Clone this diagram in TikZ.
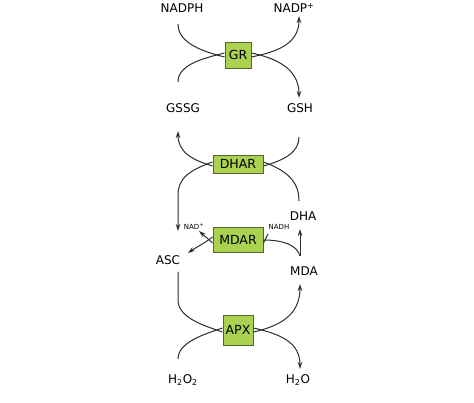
\documentclass[tikz,border=0pt]{standalone}
\usepackage{fontspec}
\setmainfont{DejaVu Sans}
\usetikzlibrary{arrows.meta}
\definecolor{boxfill}{RGB}{170,210,80}
\definecolor{boxline}{RGB}{85,100,50}
\definecolor{ln}{RGB}{45,45,45}
\tikzset{
  enz/.style={draw=boxline, line width=0.9pt, fill=boxfill, inner sep=0pt, font=\fontsize{12.5}{14}\selectfont, text=black},
  lbl/.style={font=\fontsize{12}{14}\selectfont, text=black, inner sep=0pt},
  sm/.style={font=\fontsize{7}{8}\selectfont, text=black, inner sep=0pt},
  con/.style={draw=ln, line width=1pt},
  arr/.style={con, -{Stealth[length=7pt,width=4.5pt]}}
}
\begin{document}
\begin{tikzpicture}[x=1pt,y=-1pt]
\useasboundingbox (0,0) rectangle (474,403);
% enzymes
\node[enz, minimum width=26pt, minimum height=26pt] (GR) at (238,55) {GR};
\node[enz, minimum width=50pt, minimum height=18pt] (DHAR) at (238,164) {DHAR};
\node[enz, minimum width=50pt, minimum height=25pt] (MDAR) at (238,240) {MDAR};
\node[enz, minimum width=30pt, minimum height=30pt] (APX) at (238,330) {APX};
% labels
\node[lbl] (nadph) at (182,8) {NADPH};
\node[lbl] (nadp) at (294,8) {NADP\textsuperscript{+}};
\node[lbl] (gssg) at (183,108) {GSSG};
\node[lbl] (gsh) at (300,108) {GSH};
\node[lbl] (dha) at (303,216) {DHA};
\node[lbl] (asc) at (168,260) {ASC};
\node[lbl] (mda) at (304,271) {MDA};
\node[lbl] (h2o2) at (183,380) {H\textsubscript{2}O\textsubscript{2}};
\node[lbl] (h2o) at (298,380) {H\textsubscript{2}O};
\node[sm] (nadp2) at (194,226) {NAD\textsuperscript{+}};
\node[sm] (nadh) at (279,227) {NADH};
% GR
\coordinate (c1) at (178,24);
\coordinate (c2) at (299,16);
\coordinate (c3) at (178,82);
\coordinate (c4) at (299,98);
\draw[con] (c1) .. controls (178,44) and (205,52) .. ([yshift=-2pt]GR.west);
\draw[arr] ([yshift=-2pt]GR.east) .. controls (275,52) and (299,45) .. (c2);
\draw[con] (c3) .. controls (178,64) and (205,58) .. ([yshift=2pt]GR.west);
\draw[arr] ([yshift=2pt]GR.east) .. controls (275,58) and (299,68) .. (c4);
% DHAR
\coordinate (d1) at (178,131);
\coordinate (d2) at (299,137);
\coordinate (d3) at (178,231);
\coordinate (d4) at (299,201);
\draw[arr] ([yshift=-2pt]DHAR.west) .. controls (192,160) and (178,152) .. (d1);
\draw[con] ([yshift=-2pt]DHAR.east) .. controls (285,160) and (299,152) .. (d2);
\draw[arr] ([yshift=2pt]DHAR.west) .. controls (190,170) and (178,178) .. (178,195) -- (d3);
\draw[con] ([yshift=2pt]DHAR.east) .. controls (285,170) and (299,180) .. (d4);
% MDAR
\coordinate (m1) at (199,231);
\coordinate (m2) at (188,253);
\coordinate (m3) at (300,256);
\coordinate (m4) at (300,229);
\draw[arr] ([yshift=-3pt]MDAR.west) -- (m1);
\draw[arr] ([yshift=3pt]MDAR.west) .. controls (205,243) and (195,248) .. (m2);
\draw[con] (268,234) -- ([yshift=-3pt]MDAR.east);
\draw[con] (MDAR.east) .. controls (283,240) and (297,245) .. (m3);
\draw[arr] (m3) -- (m4);
% APX
\coordinate (a1) at (178,272);
\coordinate (a2) at (300,284);
\coordinate (a3) at (178,359);
\coordinate (a4) at (300,369);
\draw[con] (a1) -- (178,300) .. controls (178,318) and (205,326) .. ([yshift=-2pt]APX.west);
\draw[arr] ([yshift=-2pt]APX.east) .. controls (280,326) and (300,315) .. (a2);
\draw[con] (a3) .. controls (178,342) and (205,334) .. ([yshift=2pt]APX.west);
\draw[arr] ([yshift=2pt]APX.east) .. controls (280,334) and (300,342) .. (a4);
\end{tikzpicture}
\end{document}
